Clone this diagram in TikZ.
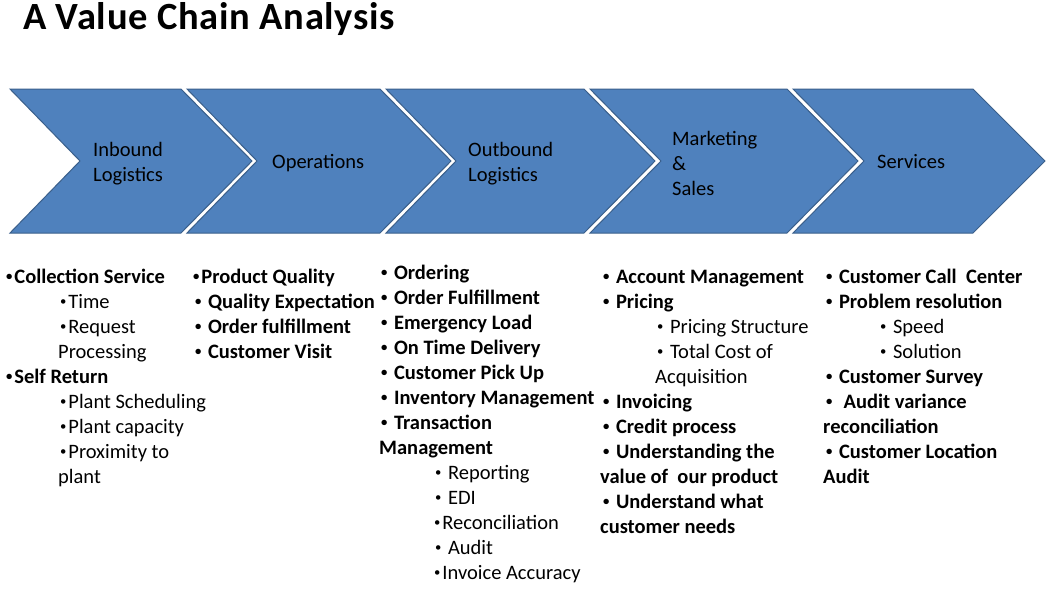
\documentclass[tikz,border=0pt]{standalone}
\usepackage{fontspec}
\usepackage{graphicx}
\setmainfont{Carlito}
\newfontfamily\titlefont[LetterSpace=1.8]{Carlito}
\definecolor{chevfill}{HTML}{4F81BD}
\definecolor{chevline}{HTML}{3A5F8B}
\newcommand\bu{\setbox0\hbox{•}\hbox to \wd0{\hss\raisebox{0.12em}{\scalebox{0.62}{•}}\hss}}
\begin{document}
\begin{tikzpicture}[x=1pt,y=-1pt,
  chev/.style={fill=chevfill,draw=chevline,line width=1pt,line join=miter},
  lab/.style={anchor=base west,inner sep=0pt,text=black,font=\fontsize{20.5}{25}\selectfont},
  txt/.style={anchor=base west,inner sep=0pt,font=\fontsize{20.5}{25}\selectfont},
  btxt/.style={txt,font=\fontsize{20.5}{25}\selectfont\bfseries},
  title/.style={anchor=base west,inner sep=0pt,font=\titlefont\fontsize{38.5}{44}\selectfont\bfseries}]
\useasboundingbox[fill=white] (0,0) rectangle (1054,603);
% title
\node[title] (title) at (23,29) {A Value Chain Analysis};
% chevrons
\draw[chev] (10,89) -- (181,89) -- (252,161) -- (181,233) -- (10,233) -- (80,161) -- cycle;
\draw[chev] (187,89) -- (380,89) -- (451,161) -- (380,233) -- (187,233) -- (257,161) -- cycle;
\draw[chev] (386,89) -- (584,89) -- (655,161) -- (584,233) -- (386,233) -- (456,161) -- cycle;
\draw[chev] (590,89) -- (787,89) -- (858,161) -- (787,233) -- (590,233) -- (661,161) -- cycle;
\draw[chev] (793,89) -- (973,89) -- (1045,161) -- (973,233) -- (793,233) -- (864,161) -- cycle;
% chevron labels
\node[lab] (in1) at (93,156) {Inbound};
\node[lab] (in2) at (93,181) {Logistics};
\node[lab] (op1) at (272,168) {Operations};
\node[lab] (out1) at (468,156) {Outbound};
\node[lab] (out2) at (468,181) {Logistics};
\node[lab] (mk1) at (672,145) {Marketing};
\node[lab] (mk2) at (672,170) {\&};
\node[lab] (mk3) at (672,195) {Sales};
\node[lab] (sv1) at (877,168) {Services};
% column 1
\node[btxt] (a1) at (4,283) {\bu Collection Service};
\node[txt]  (a2) at (58,308) {\bu Time};
\node[txt]  (a3) at (58,333) {\bu Request};
\node[txt]  (a4) at (58,358) {Processing};
\node[btxt] (a5) at (4,383) {\bu Self Return};
\node[txt]  (a6) at (58,408) {\bu Plant Scheduling};
\node[txt]  (a7) at (58,433) {\bu Plant capacity};
\node[txt]  (a8) at (58,458) {\bu Proximity to};
\node[txt]  (a9) at (58,483) {plant};
% column 2
\node[btxt] (b1) at (191,283) {\bu Product Quality};
\node[btxt] (b2) at (193,308) {\bu\ Quality Expectation};
\node[btxt] (b3) at (193,333) {\bu\ Order fulfillment};
\node[btxt] (b4) at (193,358) {\bu\ Customer Visit};
% column 3
\node[btxt] (c1) at (379,279) {\bu\ Ordering};
\node[btxt] (c2) at (379,304) {\bu\ Order Fulfillment};
\node[btxt] (c3) at (379,329) {\bu\ Emergency Load};
\node[btxt] (c4) at (379,354) {\bu\ On Time Delivery};
\node[btxt] (c5) at (379,379) {\bu\ Customer Pick Up};
\node[btxt] (c6) at (379,404) {\bu\ Inventory Management};
\node[btxt] (c7) at (379,429) {\bu\ Transaction};
\node[btxt] (c8) at (379,454) {Management};
\node[txt]  (c9) at (433,479) {\bu\ Reporting};
\node[txt]  (c10) at (433,504) {\bu\ EDI};
\node[txt]  (c11) at (432,529) {\bu Reconciliation};
\node[txt]  (c12) at (433,554) {\bu\ Audit};
\node[txt]  (c13) at (432,579) {\bu Invoice Accuracy};
% column 4
\node[btxt] (d1) at (601,283) {\bu\ Account Management};
\node[btxt] (d2) at (601,308) {\bu\ Pricing};
\node[txt]  (d3) at (655,333) {\bu\ Pricing Structure};
\node[txt]  (d4) at (655,358) {\bu\ Total Cost of};
\node[txt]  (d5) at (655,383) {Acquisition};
\node[btxt] (d6) at (601,408) {\bu\ Invoicing};
\node[btxt] (d7) at (601,433) {\bu\ Credit process};
\node[btxt] (d8) at (601,458) {\bu\ Understanding the};
\node[btxt] (d9) at (600,483) {value of~ our product};
\node[btxt] (d10) at (601,508) {\bu\ Understand what};
\node[btxt] (d11) at (600,533) {customer needs};
% column 5
\node[btxt] (e1) at (824,283) {\bu\ Customer Call~ Center};
\node[btxt] (e2) at (824,308) {\bu\ Problem resolution};
\node[txt]  (e3) at (878,333) {\bu\ Speed};
\node[txt]  (e4) at (878,358) {\bu\ Solution};
\node[btxt] (e5) at (824,383) {\bu\ Customer Survey};
\node[btxt] (e6) at (824,408) {\bu~\ Audit variance};
\node[btxt] (e7) at (823,433) {reconciliation};
\node[btxt] (e8) at (824,458) {\bu\ Customer Location};
\node[btxt] (e9) at (823,483) {Audit};
\end{tikzpicture}
\end{document}
